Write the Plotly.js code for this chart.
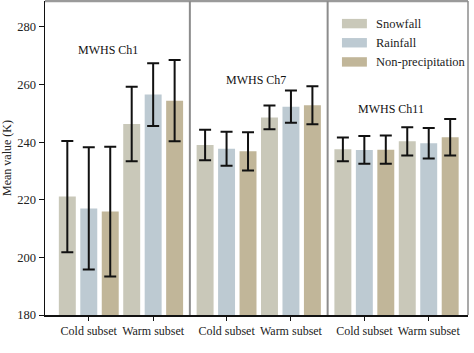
<!DOCTYPE html>
<html>
<head>
<meta charset="utf-8">
<script src="https://cdn.plot.ly/plotly-3.0.1.min.js"></script>
<style>html,body{margin:0;padding:0;background:#fff;}#chart{width:474px;height:353px;}</style>
</head>
<body>
<div id="chart"></div>
<script>
// ---- data ----
var tickLabels = ["Cold subset", "Warm subset", "Cold subset", "Warm subset", "Cold subset", "Warm subset"];
var channels = ["MWHS Ch1", "MWHS Ch7", "MWHS Ch11"];
var seriesNames = ["Snowfall", "Rainfall", "Non-precipitation"];
var snowfall     = [221.1, 246.3, 239.0, 248.6, 237.5, 240.3];
var snowfallErr  = [19.3, 12.9, 5.3, 4.1, 4.1, 4.9];
var rainfall     = [217.0, 256.5, 237.7, 252.3, 237.3, 239.6];
var rainfallErr  = [21.2, 10.9, 5.9, 5.6, 4.8, 5.3];
var nonPrecip    = [215.9, 254.4, 236.8, 252.8, 237.4, 241.7];
var nonPrecipErr = [22.5, 14.1, 6.6, 6.6, 4.9, 6.3];

// ---- layout positions (not data) ----
var groupPos = [0, 1, 2.14, 3.14, 4.28, 5.28];
var colors = ["#c9c8b9", "#bdcad2", "#c1b699"];
var labelPos = [{x: 0.3, y: 272}, {x: 2.6, y: 261.6}, {x: 4.7, y: 251.5}];

var values = [snowfall, rainfall, nonPrecip];
var errs = [snowfallErr, rainfallErr, nonPrecipErr];
var font = "'Liberation Serif', serif";

var traces = values.map(function (v, i) {
  return {
    type: "bar",
    name: seriesNames[i],
    x: groupPos,
    y: v,
    marker: {color: colors[i], line: {width: 0}},
    error_y: {type: "data", array: errs[i], visible: true, color: "#111", thickness: 2, width: 6},
    showlegend: false,
    hoverinfo: "skip"
  };
});

var shapes = [
  {type: "line", xref: "paper", yref: "paper", x0: 0, x1: 1, y0: 1, y1: 1, line: {color: "#9a9a9a", width: 2.5}},
  {type: "line", xref: "paper", yref: "paper", x0: 1, x1: 1, y0: 0, y1: 1, line: {color: "#8c8c8c", width: 1.5}},
  {type: "line", xref: "x", yref: "paper", x0: (groupPos[1] + groupPos[2]) / 2, x1: (groupPos[1] + groupPos[2]) / 2, y0: 0, y1: 1, line: {color: "#8c8c8c", width: 2}},
  {type: "line", xref: "x", yref: "paper", x0: (groupPos[3] + groupPos[4]) / 2, x1: (groupPos[3] + groupPos[4]) / 2, y0: 0, y1: 1, line: {color: "#8c8c8c", width: 2}}
];

var annotations = channels.map(function (c, i) {
  return {text: c, x: labelPos[i].x, y: labelPos[i].y, xref: "x", yref: "y", showarrow: false,
          font: {family: font, size: 12, color: "#111"}};
});

// custom legend with wide swatches
var legX0 = 0.702, legX1 = 0.761, legTextX = 0.778;
var legY = [0.928, 0.867, 0.806];
seriesNames.forEach(function (n, i) {
  shapes.push({type: "rect", xref: "paper", yref: "paper", x0: legX0, x1: legX1, y0: legY[i] - 0.015, y1: legY[i] + 0.015,
               fillcolor: colors[i], line: {width: 0}});
  annotations.push({text: n, xref: "paper", yref: "paper", x: legTextX, y: legY[i], xanchor: "left", yanchor: "middle",
                    showarrow: false, font: {family: font, size: 12.5, color: "#222"}});
});

var layout = {
  width: 474, height: 353,
  margin: {l: 45, r: 6, t: 1, b: 38},
  paper_bgcolor: "#fff", plot_bgcolor: "#fff",
  font: {family: font, size: 12, color: "#222"},
  barmode: "group", bargap: 0, bargroupgap: 0.21,
  showlegend: false,
  xaxis: {
    range: [-0.68, 5.89], tickvals: groupPos, ticktext: tickLabels,
    showgrid: false, zeroline: false, showline: true, linecolor: "#111", linewidth: 1.5,
    ticks: "outside", ticklen: 4, tickcolor: "#111", tickwidth: 1,
    tickfont: {family: font, size: 12, color: "#222"}
  },
  yaxis: {
    range: [180, 289], tickvals: [180, 200, 220, 240, 260, 280],
    showgrid: false, zeroline: false, showline: true, linecolor: "#111", linewidth: 1.5,
    ticks: "outside", ticklen: 5, tickcolor: "#111", tickwidth: 1,
    tickfont: {family: font, size: 12.5, color: "#222"},
    title: {text: "Mean value (K)", font: {family: font, size: 12, color: "#222"}, standoff: 8}
  },
  shapes: shapes,
  annotations: annotations
};

Plotly.newPlot("chart", traces, layout, {displayModeBar: false, staticPlot: true});
</script>
</body>
</html>
